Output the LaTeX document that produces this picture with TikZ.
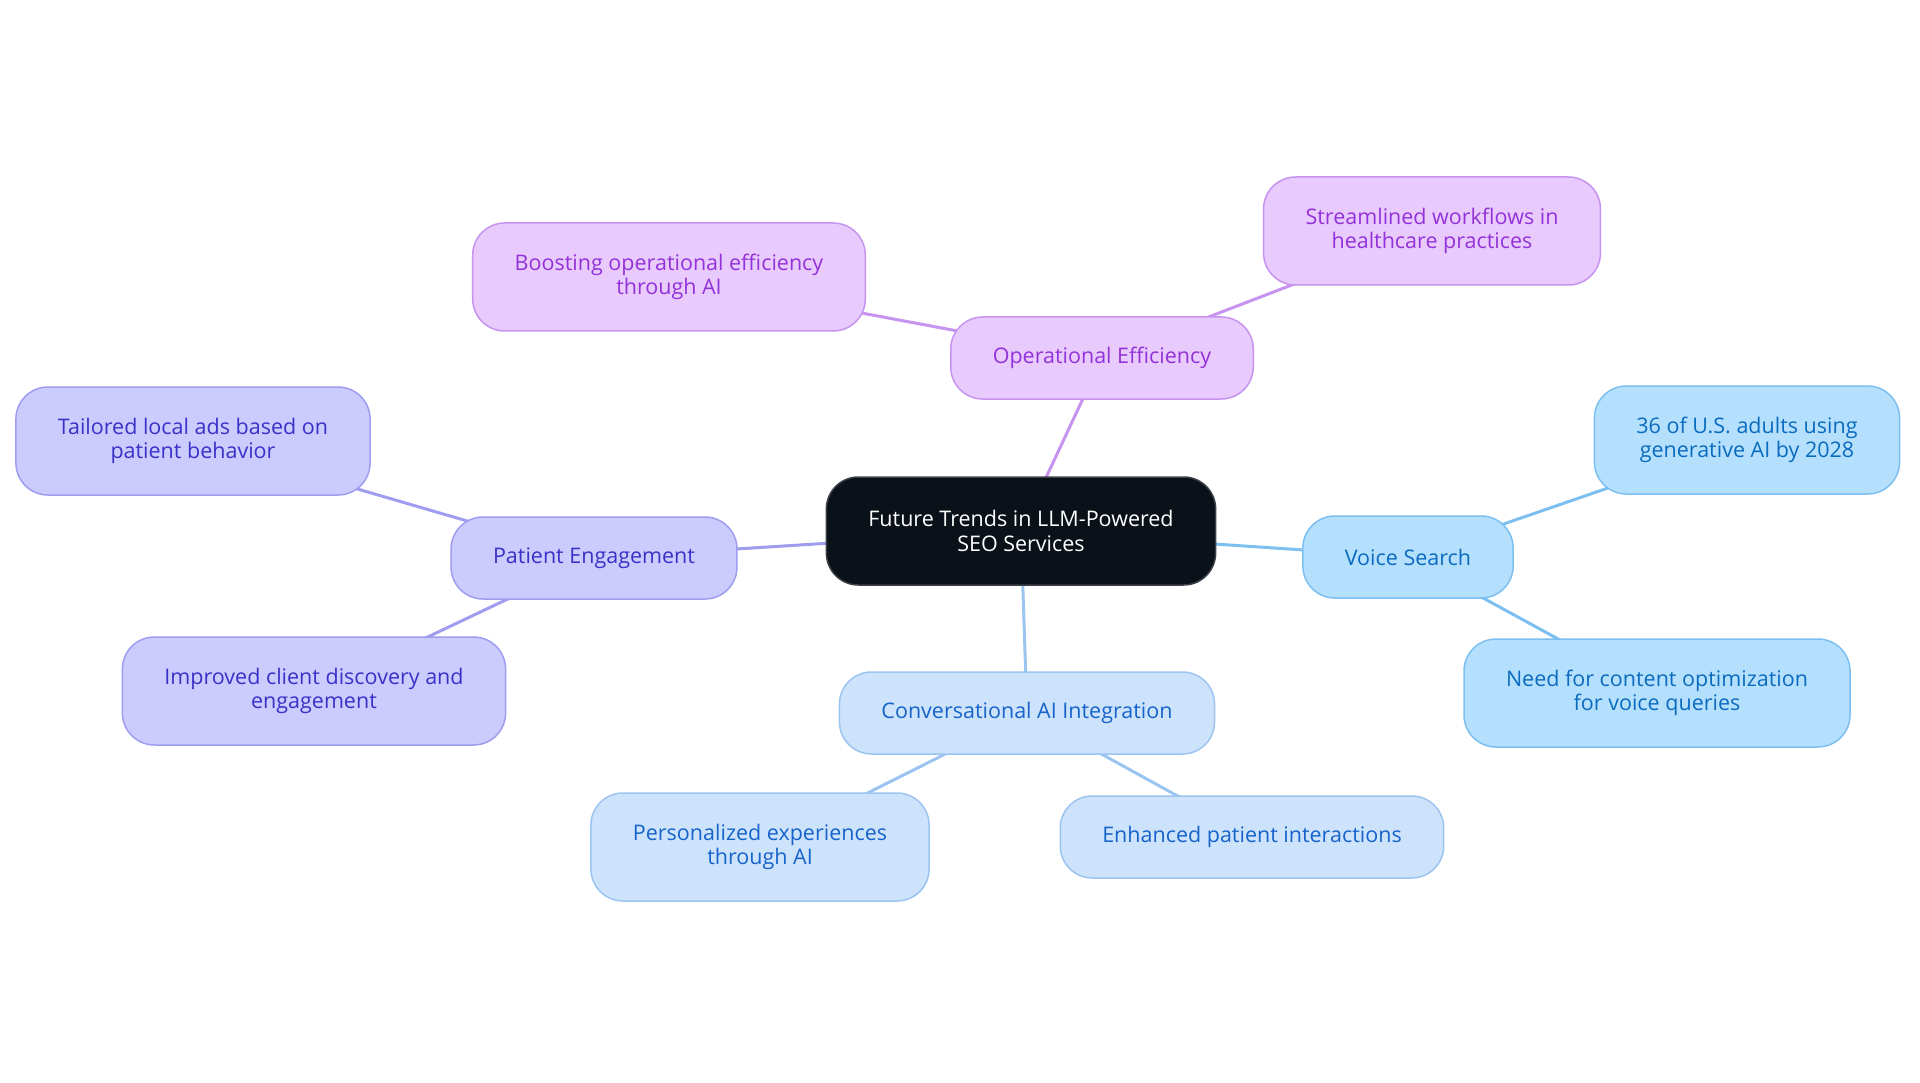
\documentclass[tikz,border=0pt]{standalone}
\usepackage{fontspec}
\setmainfont{Open Sans}
\usetikzlibrary{backgrounds}

\definecolor{rootfill}{HTML}{0B1119}
\definecolor{rootline}{HTML}{3C4048}
\definecolor{opsfill}{HTML}{E8CAFD}
\definecolor{opsline}{HTML}{C793F0}
\definecolor{opstext}{HTML}{9332D8}
\definecolor{patfill}{HTML}{CBCBFD}
\definecolor{patline}{HTML}{9E9DF0}
\definecolor{pattext}{HTML}{3A31C8}
\definecolor{voifill}{HTML}{B5E0FD}
\definecolor{voiline}{HTML}{7CBFF0}
\definecolor{voitext}{HTML}{0A6BBF}
\definecolor{convfill}{HTML}{CDE3FB}
\definecolor{convline}{HTML}{9CC4F0}
\definecolor{convtext}{HTML}{1663CB}

\begin{document}
\begin{tikzpicture}[x=1pt,y=-1pt,
    topic/.style={rounded corners=32pt,line width=1.5pt,inner xsep=42pt,
      align=center,font=\fontsize{21.5}{24.5}\selectfont},
    one/.style={minimum height=82pt},
    two/.style={minimum height=108pt},
    root/.style={topic,fill=rootfill,draw=rootline,text=white},
    ops/.style={topic,fill=opsfill,draw=opsline,text=opstext},
    pat/.style={topic,fill=patfill,draw=patline,text=pattext},
    voi/.style={topic,fill=voifill,draw=voiline,text=voitext},
    conv/.style={topic,fill=convfill,draw=convline,text=convtext},
    link/.style={line width=3pt}]
  \useasboundingbox (0,0) rectangle (1920,1083);

  \node[root,two] (trends) at (1021,531) {Future Trends in LLM-Powered\\SEO Services};

  \node[ops,one] (ops) at (1102,358) {Operational Efficiency};
  \node[ops,two] (boost) at (669,277) {Boosting operational efficiency\\through AI};
  \node[ops,two] (stream) at (1432,231) {Streamlined workflows in\\healthcare practices};

  \node[pat,one] (pat) at (594,558) {Patient Engagement};
  \node[pat,two] (ads) at (193,441) {Tailored local ads based on\\patient behavior};
  \node[pat,two] (disc) at (314,691) {Improved client discovery and\\engagement};

  \node[voi,one] (voice) at (1408,557) {Voice Search};
  \node[voi,two] (adults) at (1747,440) {36 of U.S. adults using\\generative AI by 2028};
  \node[voi,two] (need) at (1657,693) {Need for content optimization\\for voice queries};

  \node[conv,one] (conv) at (1027,713) {Conversational AI Integration};
  \node[conv,two] (pers) at (760,847) {Personalized experiences\\through AI};
  \node[conv,one] (enh) at (1252,837) {Enhanced patient interactions};

  \begin{scope}[on background layer]
    \draw[link,opsline] (trends.center) -- (ops.center);
    \draw[link,opsline] (ops.center) -- (boost.center);
    \draw[link,opsline] (ops.center) -- (stream.center);
    \draw[link,patline] (trends.center) -- (pat.center);
    \draw[link,patline] (pat.center) -- (ads.center);
    \draw[link,patline] (pat.center) -- (disc.center);
    \draw[link,voiline] (trends.center) -- (voice.center);
    \draw[link,voiline] (voice.center) -- (adults.center);
    \draw[link,voiline] (voice.center) -- (need.center);
    \draw[link,convline] (trends.center) -- (conv.center);
    \draw[link,convline] (conv.center) -- (pers.center);
    \draw[link,convline] (conv.center) -- (enh.center);
  \end{scope}
\end{tikzpicture}
\end{document}
